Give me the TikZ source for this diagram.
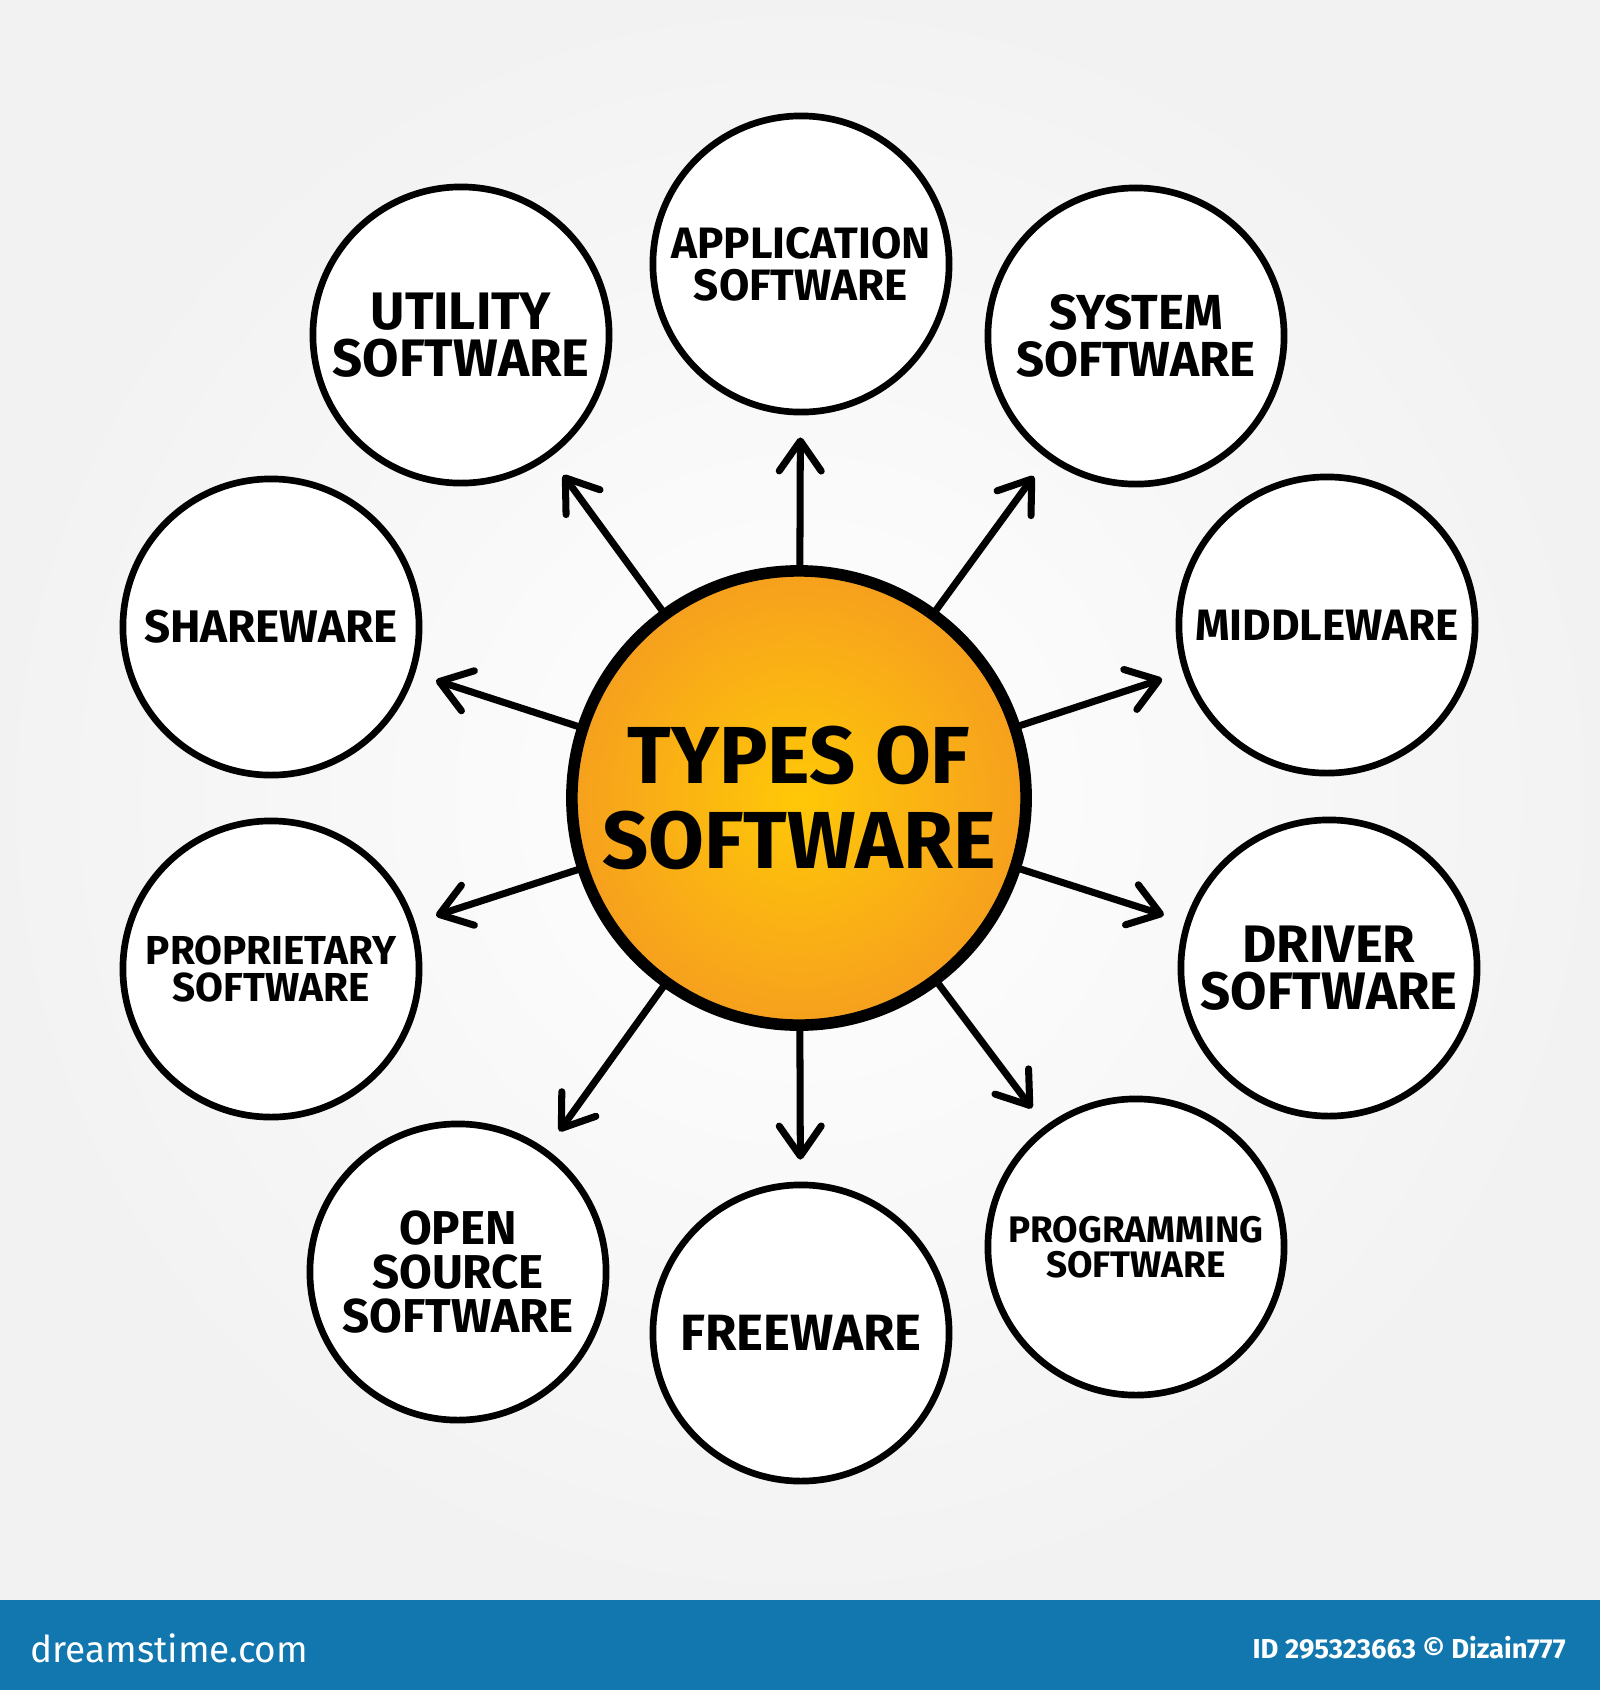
\documentclass[tikz,border=0pt]{standalone}
\usepackage{fontspec}
\setmainfont{Fira Sans}
\setsansfont{Fira Sans}
\usepackage{tikz}
\usetikzlibrary{arrows.meta}
\definecolor{barblue}{HTML}{1177AE}
\definecolor{sunin}{HTML}{FFC807}
\definecolor{sunout}{HTML}{F6A01E}
\tikzset{leaf/.style={circle, draw, line width=1.9pt, fill=white,
  minimum size=2.96cm, inner sep=0pt, align=center}}
\tikzset{topic/.style={circle, draw, line width=3.3pt, inner color=sunin,
  outer color=sunout, minimum size=4.54cm, inner sep=0pt, align=center}}
\tikzset{arr/.style={line width=2pt, line cap=round,
  -{Straight Barb[length=0.3cm, width=0.42cm, round]}, shorten >=0.22cm}}

\begin{document}
\begin{tikzpicture}[x=0.01cm, y=-0.01cm]
\useasboundingbox (0,0) rectangle (1600,1690);
\shade[inner color=white, outer color=gray!10] (0,0) rectangle (1600,1600);
\fill[barblue] (0,1600) rectangle (1600,1690);

\node[topic, font=\fontsize{23}{24}\selectfont\bfseries] (types) at (799,798) {TYPES OF\\SOFTWARE};

\node[leaf, font=\fontsize{12.5}{12}\selectfont\bfseries] (app) at (801,264) {APPLICATION\\SOFTWARE};
\node[leaf, font=\fontsize{14}{13.5}\selectfont\bfseries] (sys) at (1136,336) {SYSTEM\\SOFTWARE};
\node[leaf, font=\fontsize{12.5}{12}\selectfont\bfseries] (mid) at (1327,625) {MIDDLEWARE};
\node[leaf, font=\fontsize{15}{13.5}\selectfont\bfseries] (drv) at (1329,968) {DRIVER\\SOFTWARE};
\node[leaf, font=\fontsize{10.5}{10}\selectfont\bfseries] (prog) at (1136,1247) {PROGRAMMING\\SOFTWARE};
\node[leaf, font=\fontsize{14.5}{13}\selectfont\bfseries] (free) at (801,1333) {FREEWARE};
\node[leaf, font=\fontsize{13.5}{12.5}\selectfont\bfseries] (open) at (458,1272) {OPEN\\SOURCE\\SOFTWARE};
\node[leaf, font=\fontsize{11.5}{10.5}\selectfont\bfseries] (prop) at (271,969) {PROPRIETARY\\SOFTWARE};
\node[leaf, font=\fontsize{13}{12}\selectfont\bfseries] (share) at (271,627) {SHAREWARE};
\node[leaf, font=\fontsize{15}{13.5}\selectfont\bfseries] (util) at (461,335) {UTILITY\\SOFTWARE};

\draw[arr] (types) -- (app);
\draw[arr] (types) -- (sys);
\draw[arr] (types) -- (mid);
\draw[arr] (types) -- (drv);
\draw[arr] (types) -- (prog);
\draw[arr] (types) -- (free);
\draw[arr] (types) -- (open);
\draw[arr] (types) -- (prop);
\draw[arr] (types) -- (share);
\draw[arr] (types) -- (util);

\node[anchor=west, text=white, font=\fontsize{10.5}{12}\selectfont] (site) at (18,1648) {dreamstime.com};
\node[anchor=east, text=white, font=\fontsize{7.8}{9}\selectfont\bfseries] (imgid) at (1578,1648) {ID 295323663 © Dizain777};
\end{tikzpicture}
\end{document}
